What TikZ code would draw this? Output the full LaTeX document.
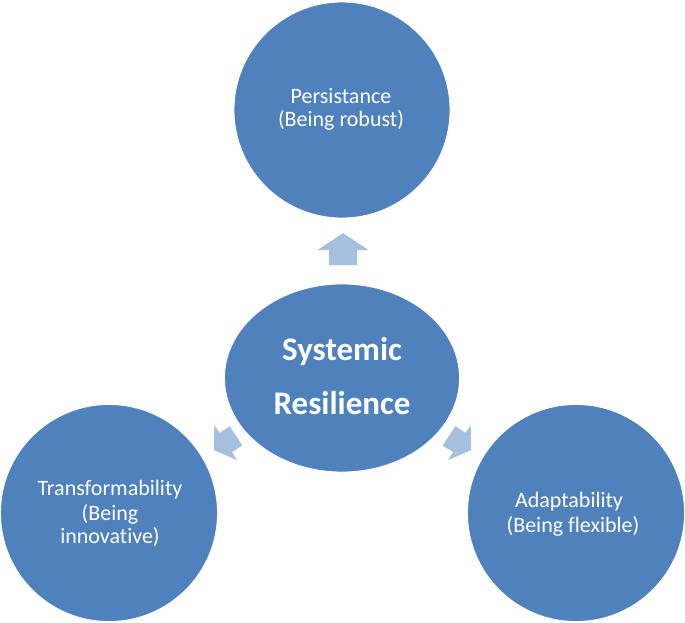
\documentclass[tikz,border=0pt]{standalone}
\usepackage{fontspec}
\setmainfont{Carlito}[RawFeature=-liga]
\usetikzlibrary{shapes.geometric}
\definecolor{bubblue}{HTML}{4F81BD}
\definecolor{arrblue}{HTML}{A7BFDE}
\begin{document}
\begin{tikzpicture}[x=1pt,y=-1pt,
  bub/.style={circle, fill=bubblue, draw=white, line width=0.8pt, minimum size=#1, inner sep=0pt},
  lbl/.style={text=white, font=\fontsize{22}{24}\selectfont, anchor=base, inner sep=0pt},
  big/.style={text=white, font=\fontsize{33}{40}\selectfont\bfseries, anchor=base, inner sep=0pt},
  blockarr/.pic={\fill[arrblue] (0,-16) -- (25.5,1) -- (14,1) -- (14,16) -- (-14,16) -- (-14,1) -- (-25.5,1) -- cycle;}
]
\useasboundingbox (0,0) rectangle (685,622);
% circles
\node[bub=216pt] (top) at (342,110) {};
\node[ellipse, fill=bubblue, draw=white, line width=0.8pt, minimum width=235pt, minimum height=188pt, inner sep=0pt] (core) at (342,378) {};
\node[bub=217pt] (left) at (109,513) {};
\node[bub=217pt] (right) at (576,513) {};
% arrows
\pic at (343,249) {blockarr};
\pic[rotate=123, scale=0.82] at (225,443) {blockarr};
\pic[rotate=-123, scale=0.82] at (460,443) {blockarr};
% labels
\node[big] (c1) at (342,360) {Systemic};
\node[big] (c2) at (342,414) {Resilience};
\node[lbl] (t1) at (341,103) {Persistance};
\node[lbl] (t2) at (341,126) {(Being robust)};
\node[lbl] (l1) at (110,495) {Transformability};
\node[lbl] (l2) at (110,520) {(Being};
\node[lbl] (l3) at (110,543) {innovative)};
\node[lbl] (r1) at (569,507) {Adaptability};
\node[lbl] (r2) at (573,532) {(Being flexible)};
\end{tikzpicture}
\end{document}
